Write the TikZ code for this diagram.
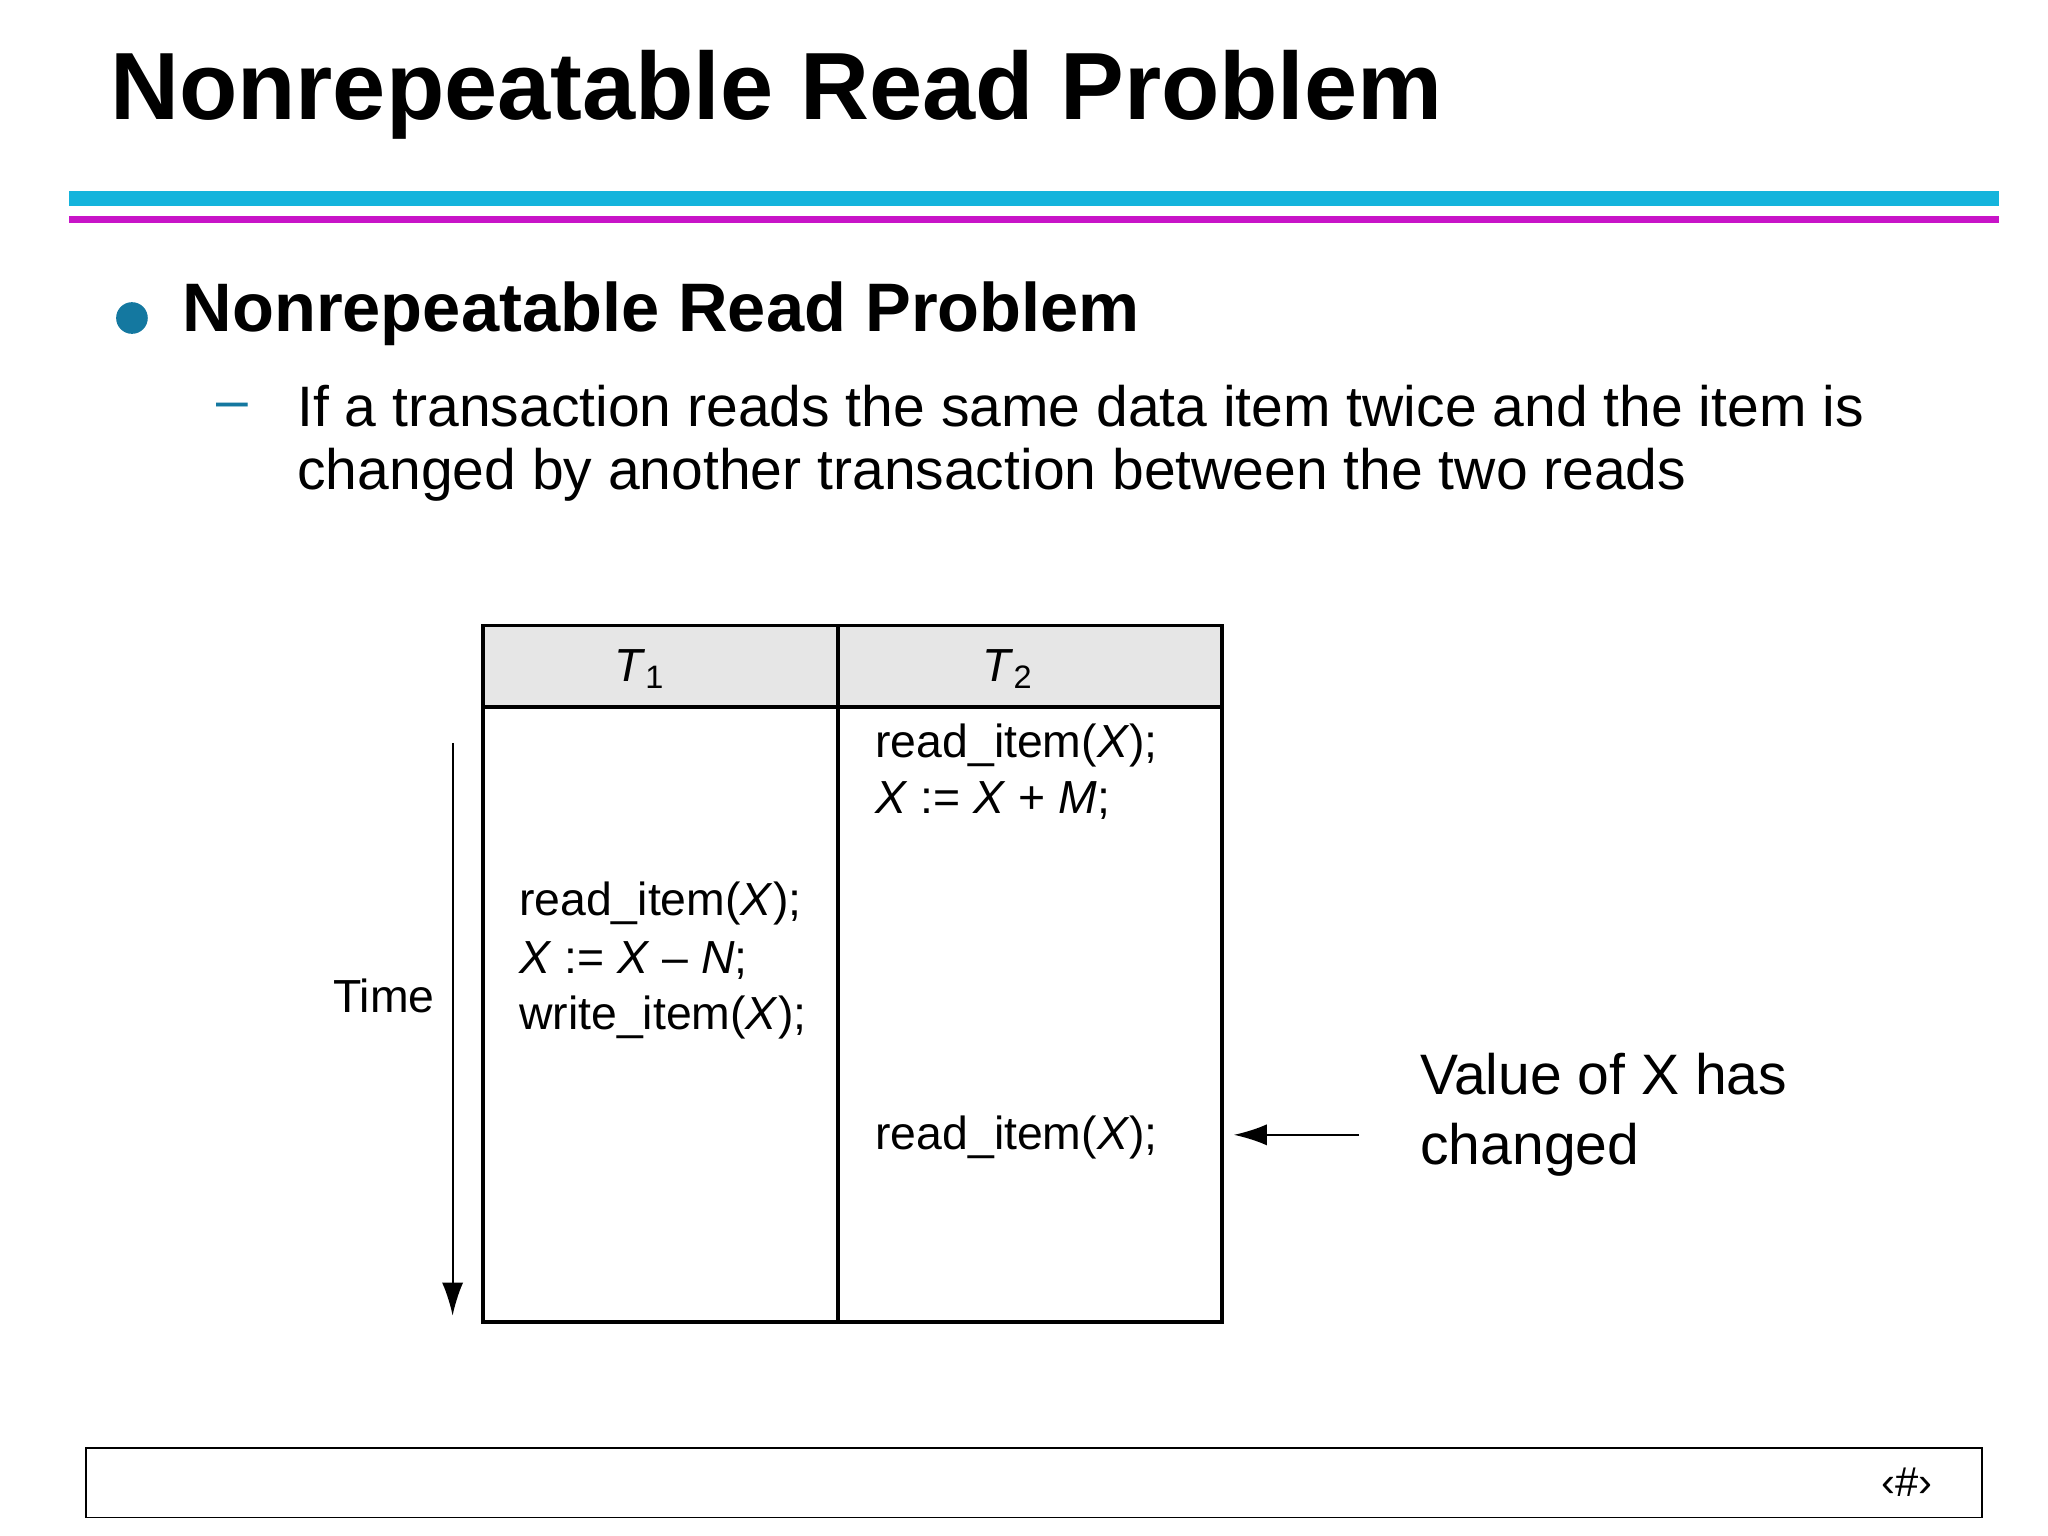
\documentclass[tikz,border=0pt]{standalone}
\usepackage{fontspec}
\setmainfont{Liberation Sans}
\usetikzlibrary{positioning,arrows.meta}
\definecolor{titlecyan}{RGB}{20,180,220}
\definecolor{titlemag}{RGB}{200,20,200}
\definecolor{bullteal}{RGB}{20,120,160}
\definecolor{headgray}{RGB}{230,230,230}
\newcommand{\ix}[1]{\textit{#1}}
\begin{document}
\begin{tikzpicture}[x=1cm,y=-1cm,
    thick,
    op/.style={anchor=west,font=\fontsize{10}{12}\selectfont,inner sep=0pt},
    body/.style={anchor=west,font=\fontsize{12.3}{15}\selectfont,inner sep=0pt},
    tip/.style={thin,-{Latex[length=2.5mm,width=1.6mm]}}]
\useasboundingbox (0,0) rectangle (15.52,11.64);

% title and rules
\node[anchor=west,inner sep=0pt,font=\fontsize{20.6}{24}\selectfont\bfseries] (title) at (0.82,0.72) {Nonrepeatable Read Problem};
\fill[titlecyan] (0.52,1.45) rectangle (15.15,1.56);
\fill[titlemag] (0.52,1.64) rectangle (15.15,1.69);

% bullet text
\fill[bullteal] (1.0,2.41) circle (0.12);
\node[anchor=west,inner sep=0pt,font=\fontsize{14.8}{18}\selectfont\bfseries] (head) at (1.37,2.38) {Nonrepeatable Read Problem};
\node[anchor=west,inner sep=0pt,text=bullteal,font=\fontsize{12.3}{15}\selectfont] (dash) at (1.63,3.12) {--};
\node[body] (line1) at (2.24,3.08) {If a transaction reads the same data item twice and the item is};
\node[body] (line2) at (2.24,3.60) {changed by another transaction between the two reads};

% schedule table
\fill[headgray] (3.66,4.74) rectangle (9.26,5.36);
\draw (3.66,4.74) rectangle (9.26,10.02);
\draw (3.66,5.36) -- (9.26,5.36);
\draw (6.35,4.74) -- (6.35,10.02);
\node[font=\fontsize{10}{12}\selectfont] (T1) at (4.85,5.07) {\ix{T}\textsubscript{1}};
\node[font=\fontsize{10}{12}\selectfont] (T2) at (7.64,5.07) {\ix{T}\textsubscript{2}};

\node[op] (r2a) at (6.62,5.65) {read\_item(\ix{X});};
\node[op] (u2)  at (6.62,6.07) {\ix{X} := \ix{X} + \ix{M};};
\node[op] (r1)  at (3.92,6.85) {read\_item(\ix{X});};
\node[op] (u1)  at (3.92,7.28) {\ix{X} := \ix{X} -- \ix{N};};
\node[op] (w1)  at (3.92,7.71) {write\_item(\ix{X});};
\node[op] (r2b) at (6.62,8.62) {read\_item(\ix{X});};

% time axis
\node[font=\fontsize{10}{12}\selectfont] (time) at (2.91,7.55) {Time};
\coordinate (t0) at (3.43,5.63);
\coordinate (t1) at (3.43,9.97);
\draw[tip] (t0) -- (t1);

% remark
\node[body,align=left,anchor=north west] (note) at (10.75,7.97) {Value of X has\\changed};
\coordinate (a0) at (10.30,8.60);
\coordinate (a1) at (9.35,8.60);
\draw[tip] (a0) -- (a1);

% footer
\draw[thin] (0.65,10.97) rectangle (15.02,11.50);
\node[font=\fontsize{9}{11}\selectfont] (page) at (14.45,11.23) {‹\#›};
\end{tikzpicture}
\end{document}
